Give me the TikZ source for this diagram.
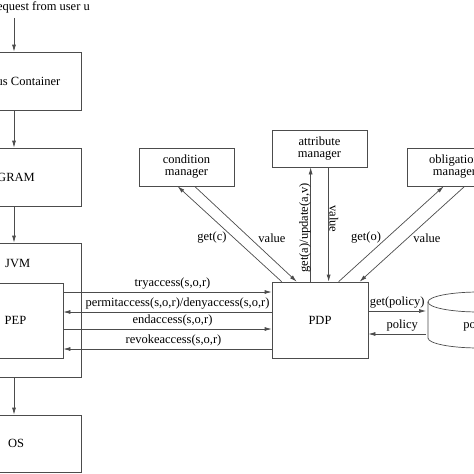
\documentclass[tikz,border=0pt]{standalone}
\usepackage{fontspec}
\setmainfont{Liberation Serif}
\usetikzlibrary{arrows.meta}
\begin{document}
\begin{tikzpicture}[x=1pt,y=-1pt,
  every node/.style={font=\fontsize{12.5}{12}\selectfont, inner sep=0pt},
  box/.style={draw=black!70, line width=0.7pt, rectangle, align=center},
  arr/.style={draw=black!70, line width=0.7pt, -{Latex[length=7pt,width=4pt]}},
  lab/.style={inner sep=2.5pt},
]
\useasboundingbox (0,0) rectangle (474,474);
\clip (0,0) rectangle (474,474);
\fill[white] (0,0) rectangle (474,474);
\coordinate (col) at (14,0);
% left column
\node[anchor=east] (req) at (90,7) {request from user u};
\node[box, minimum width=130pt, minimum height=58pt] (globus) at (16,81) {Globus Container};
\node[box, minimum width=130pt, minimum height=58pt] (gram) at (16,177) {GRAM};
\node[box, minimum width=130pt, minimum height=134pt] (jvm) at (16,310) {};
\node[anchor=west] (jvmlab) at (5,263) {JVM};
\node[box, minimum width=95pt, minimum height=75pt] (pep) at (15.5,320.5) {PEP};
\node[box, minimum width=130pt, minimum height=57pt] (os) at (16,443.5) {OS};
\draw[arr] (req.south -| col) ++(0,5) -- (globus.north -| col);
\draw[arr] (globus.south -| col) -- (gram.north -| col);
\draw[arr] (gram.south -| col) -- (jvm.north -| col);
\draw[arr] (jvm.south -| col) -- (os.north -| col);
% PDP
\node[box, minimum width=96pt, minimum height=76pt] (pdp) at (320,320) {PDP};
% managers
\node[box, minimum width=95pt, minimum height=38pt] (cond) at (186.5,167) {condition\\manager};
\node[box, minimum width=95pt, minimum height=37pt] (attr) at (319.5,148.5) {attribute\\manager};
\node[box, minimum width=95pt, minimum height=38pt] (obl) at (454.5,167) {obligation\\manager};
% PEP <-> PDP
\draw[arr] (pep.east |- 0,292) -- node[lab, above, xshift=5pt] {tryaccess(s,o,r)} (pdp.west |- 0,292);
\draw[arr] (pdp.west |- 0,312) -- node[lab, above, xshift=10pt] {permitaccess(s,o,r)/denyaccess(s,o,r)} (pep.east |- 0,312);
\draw[arr] (pep.east |- 0,329) -- node[lab, above, xshift=5pt] {endaccess(s,o,r)} (pdp.west |- 0,329);
\draw[arr] (pdp.west |- 0,349) -- node[lab, above, xshift=6pt] {revokeaccess(s,o,r)} (pep.east |- 0,349);
% managers <-> PDP
\draw[arr] ([xshift=10pt]pdp.north west) -- ([xshift=39pt]cond.south west);
\draw[arr] ([xshift=56pt]cond.south west) -- ([xshift=25pt]pdp.north west);
\draw[arr] ([xshift=39pt]pdp.north west) -- ([xshift=39pt]attr.south west);
\draw[arr] ([xshift=57pt]attr.south west) -- ([xshift=57pt]pdp.north west);
\draw[arr] ([xshift=67pt]pdp.north west) -- ([xshift=37pt]obl.south west);
\draw[arr] ([xshift=58pt]obl.south west) -- ([xshift=88pt]pdp.north west);
\node (lgc) at (212,238) {get(c)};
\node (lvc) at (272,238) {value};
\node[rotate=90] (lga) at (305,228) {get(a)/update(a,v)};
\node[rotate=-90] (lva) at (334,219) {value};
\node (lgo) at (366,238) {get(o)};
\node (lvo) at (427,238) {value};
% policy store
\draw[draw=black!70, line width=0.7pt, fill=white] (428,302) -- (428,338) arc[start angle=180, end angle=360, x radius=51, y radius=-10] -- (530,302);
\draw[draw=black!70, line width=0.7pt] (479,302) ellipse[x radius=51, y radius=10];
\node (pol) at (479,326) {policy};
\coordinate (polL) at (426,320);
\draw[arr] (pdp.east |- 0,311) -- node[lab, above] {get(policy)} (polL |- 0,311);
\draw[arr] (polL |- 0,334) -- node[lab, above, xshift=5pt] {policy} (pdp.east |- 0,334);
\end{tikzpicture}
\end{document}
